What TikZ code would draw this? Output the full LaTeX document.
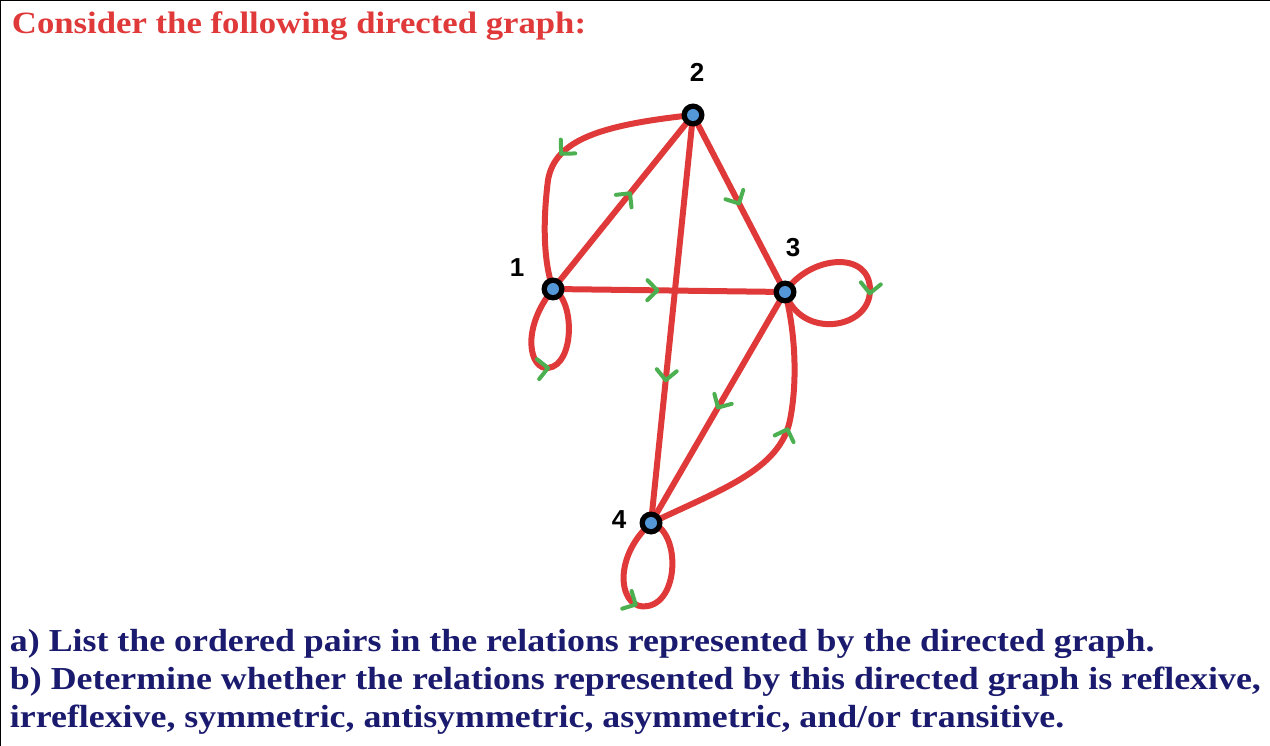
\documentclass[tikz,border=0pt]{standalone}
\usepackage{fontspec}
\setmainfont{Liberation Serif}
\newfontfamily\lblfont{Liberation Sans}
\usetikzlibrary{arrows.meta,decorations.markings}
\definecolor{ered}{HTML}{E0393A}
\definecolor{agreen}{HTML}{4CAF50}
\definecolor{navy}{HTML}{1A1A6E}
\tikzset{
  edge/.style={draw=ered,line width=6pt,line cap=round,
    postaction={decorate,decoration={markings,
      mark=at position #1 with {\draw[agreen,line width=4pt,line cap=round,line join=round] (-10pt,10pt) -- (0,0) -- (-10pt,-10pt);}}}},
  edge/.default=0.5,
  vert/.style={circle,fill=black,minimum size=23pt,inner sep=0pt},
  lbl/.style={font=\lblfont\bfseries\fontsize{26}{26}\selectfont}
}
\begin{document}
\begin{tikzpicture}[x=1pt,y=-1pt]
\useasboundingbox (0,0) rectangle (1270,746);
\draw[line width=1.2pt] (0,746) -- (0,0) -- (1270,0);
\node[anchor=west,text=ered,font=\bfseries\fontsize{31}{36}\selectfont,xscale=1.12,transform shape] (t) at (8,26) {Consider the following directed graph:};
\coordinate (n1) at (553,289);
\coordinate (n2) at (693,115);
\coordinate (n3) at (785,292);
\coordinate (n4) at (651,523);
% edges
\path[edge=0.5] (n2) .. controls (600,125) and (555,140) .. (548,180) .. controls (543,220) and (543,260) .. (n1);
\path[edge=0.55] (n1) -- (n2);
\path[edge=0.5] (n2) -- (n3);
\path[edge=0.45] (n1) -- (n3);
\path[edge=0.65] (n2) -- (n4);
\path[edge=0.5] (n3) -- (n4);
\path[edge=0.55] (n4) .. controls (720,490) and (780,470) .. (790,420) .. controls (798,380) and (795,330) .. (n3);
\path[edge=0.5] (n1) .. controls (520,330) and (530,370) .. (548,368) .. controls (575,365) and (575,300) .. (n1);
\path[edge=0.5] (n3) .. controls (810,255) and (870,250) .. (870,290) .. controls (870,330) and (800,340) .. (n3);
\path[edge=0.45] (n4) .. controls (610,560) and (620,612) .. (648,606) .. controls (680,600) and (680,530) .. (n4);
% vertices
\foreach \n in {n1,n2,n3,n4}{
  \node[vert] at (\n) {};
  \node[circle,fill=cyan!60!blue!70,minimum size=12pt,inner sep=0pt] at (\n) {};
}
\node[lbl] (l1) at (517,268) {1};
\node[lbl] (l2) at (697,72) {2};
\node[lbl] (l3) at (793,248) {3};
\node[lbl] (l4) at (619,520) {4};
\node[anchor=north west,text=navy,align=left,font=\bfseries\fontsize{32}{38}\selectfont,xscale=1.12,transform shape] (q) at (6,626)
{a) List the ordered pairs in the relations represented by the directed graph.\\
b) Determine whether the relations represented by this directed graph is reflexive,\\
irreflexive, symmetric, antisymmetric, asymmetric, and/or transitive.};
\end{tikzpicture}
\end{document}
